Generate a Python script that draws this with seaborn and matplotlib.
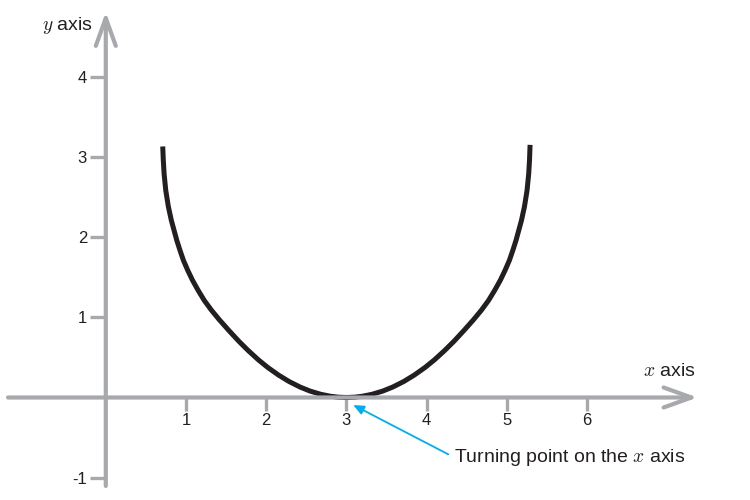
import numpy as np
import pandas as pd
import seaborn as sns
import matplotlib.pyplot as plt

# curve: left branch down to the vertex, then right branch up
curve_x = [0.710, 0.717, 0.727, 0.748, 0.780, 0.817, 0.885, 0.925, 0.968, 1.022, 1.082, 1.152,
           1.228, 1.316, 1.415, 1.535, 1.660, 1.776, 1.902, 2.019, 2.153, 2.284, 2.423, 2.547,
           2.680, 2.804, 2.899, 3.000,
           3.101, 3.196, 3.320, 3.453, 3.577, 3.716, 3.847, 3.981, 4.098, 4.224, 4.340, 4.465,
           4.585, 4.684, 4.772, 4.848, 4.918, 4.978, 5.032, 5.075, 5.115, 5.183, 5.220, 5.252,
           5.273, 5.283, 5.290]
curve_y = [3.13, 2.96, 2.79, 2.58, 2.38, 2.21, 1.96, 1.835, 1.71, 1.585, 1.46, 1.335,
           1.21, 1.09, 0.97, 0.835, 0.70, 0.585, 0.47, 0.375, 0.28, 0.20, 0.13, 0.08,
           0.04, 0.015, 0.004, 0.000,
           0.004, 0.015, 0.04, 0.08, 0.13, 0.20, 0.28, 0.375, 0.47, 0.585, 0.70, 0.835,
           0.97, 1.09, 1.21, 1.335, 1.46, 1.585, 1.71, 1.835, 1.96, 2.21, 2.38, 2.58,
           2.79, 2.96, 3.15]

x_ticks = [1, 2, 3, 4, 5, 6]
y_ticks = [-1, 1, 2, 3, 4]

turning_point = (3.0, 0.0)
note_text = "Turning point on the $x$ axis"

gray = "#a7a9ac"
dark = "#231f20"
cyan = "#00aeef"

sns.set_style("white")
plt.rcParams["font.family"] = ["Liberation Sans", "DejaVu Sans"]
plt.rcParams["mathtext.fontset"] = "cm"

fig = plt.figure(figsize=(7.5, 5), dpi=100)
ax = fig.add_axes([0, 0, 1, 1])
ax.set_xlim(-1.319, 8.032)
ax.set_ylim(-1.278, 4.956)

# axes through the origin, drawn as arrows
for side in ["top", "right", "bottom", "left"]:
    ax.spines[side].set_visible(False)
ax.spines["bottom"].set_position(("data", 0))
ax.spines["left"].set_position(("data", 0))

arrow_style = dict(arrowstyle="->,head_length=1.0,head_width=0.36", color=gray, lw=3,
                   shrinkA=0, shrinkB=0, mutation_scale=20)
ax.annotate("", xy=(7.378, 0), xytext=(-1.219, 0), arrowprops=arrow_style)
ax.annotate("", xy=(0, 4.807), xytext=(0, -1.103), arrowprops=arrow_style)

ax.set_xticks(x_ticks)
ax.set_xticklabels([str(t) for t in x_ticks])
ax.set_yticks(y_ticks)
ax.set_yticklabels([str(t) for t in y_ticks])
ax.tick_params(axis="x", bottom=True, direction="out", length=10, width=2.4, color=gray,
               pad=1, labelsize=12, labelcolor=dark)
ax.tick_params(axis="y", left=True, direction="out", length=11.5, width=2.4, color=gray,
               pad=2, labelsize=12, labelcolor=dark)

# the curve
df = pd.DataFrame({"x": curve_x, "y": curve_y})
sns.lineplot(data=df, x="x", y="y", sort=False, estimator=None, color=dark,
             linewidth=3.6, solid_joinstyle="round", solid_capstyle="butt", ax=ax)
ax.set_xlabel("")
ax.set_ylabel("")

ax.text(7.359, 0.322, "$x$ axis", ha="right", va="center", fontsize=14, color=dark)
ax.text(-0.16, 4.632, "$y$ axis", ha="right", va="center", fontsize=14, color=dark)

ax.annotate(note_text, xy=(turning_point[0] + 0.086, turning_point[1] - 0.094),
            xytext=(4.342, -0.746), ha="left", va="center", fontsize=14, color=dark,
            arrowprops=dict(arrowstyle="-|>,head_length=0.45,head_width=0.2", color=cyan,
                            lw=1.3, shrinkA=2, shrinkB=0, relpos=(0, 0.5)))

fig.savefig("out.png", dpi=100)
